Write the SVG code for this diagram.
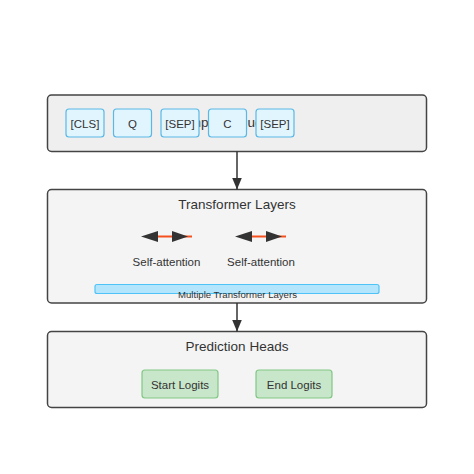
<svg xmlns="http://www.w3.org/2000/svg" width="474" height="474" viewBox="0 0 474 474">
<defs>
<style>
.panel{stroke:#444;stroke-width:1.5}
.tok{fill:#e1f5fe;stroke:#5ab8e6;stroke-width:1.2}
.head{fill:#c8e6c9;stroke:#81c784;stroke-width:1.2}
.title{font-family:"Liberation Sans",Arial,sans-serif;font-size:13.5px;fill:#333;text-anchor:middle}
.lbl{font-family:"Liberation Sans",Arial,sans-serif;font-size:11.5px;fill:#333;text-anchor:middle}
.small{font-family:"Liberation Sans",Arial,sans-serif;font-size:9.6px;fill:#333;text-anchor:middle}
.conn{stroke:#333;stroke-width:1.5;fill:none}
.att{stroke:#f4511e;stroke-width:2}
.ah{fill:#333}
</style>
<marker id="arr" viewBox="0 0 12 10" refX="12" refY="5" markerWidth="12" markerHeight="10" markerUnits="userSpaceOnUse" orient="auto">
<path d="M0,0 L12,5 L0,10 Z" fill="#333"/>
</marker>
</defs>
<rect width="474" height="474" fill="#ffffff"/>

<g id="input">
<rect class="panel" x="47.5" y="95" width="379" height="56.5" rx="4" fill="#efefef"/>
<text class="title" x="237" y="127">Input Sequence</text>
<g id="tok-cls"><rect class="tok" x="66" y="109" width="38" height="28" rx="3"/><text class="lbl" x="85" y="128">[CLS]</text></g>
<g id="tok-q"><rect class="tok" x="113.5" y="109" width="38" height="28" rx="3"/><text class="lbl" x="132.5" y="128">Q</text></g>
<g id="tok-sep1"><rect class="tok" x="161" y="109" width="38" height="28" rx="3"/><text class="lbl" x="180" y="128">[SEP]</text></g>
<g id="tok-c"><rect class="tok" x="208.5" y="109" width="38" height="28" rx="3"/><text class="lbl" x="227.5" y="128">C</text></g>
<g id="tok-sep2"><rect class="tok" x="256" y="109" width="38" height="28" rx="3"/><text class="lbl" x="275" y="128">[SEP]</text></g>
</g>

<g id="transformer">
<rect class="panel" x="47.5" y="189.5" width="379" height="113.5" rx="4" fill="#f4f4f4"/>
<text class="title" x="237" y="208.5">Transformer Layers</text>
<g id="att1">
<line class="att" x1="157" y1="236.5" x2="192" y2="236.5"/>
<path class="ah" d="M141,236.5 L158,231 L158,242 Z"/>
<path class="ah" d="M172,231 L188,236.5 L172,242 Z"/>
<text class="lbl" x="166.5" y="265.5">Self-attention</text>
</g>
<g id="att2">
<line class="att" x1="251" y1="236.5" x2="286" y2="236.5"/>
<path class="ah" d="M235,236.5 L252,231 L252,242 Z"/>
<path class="ah" d="M266,231 L282,236.5 L266,242 Z"/>
<text class="lbl" x="261" y="265.5">Self-attention</text>
</g>
<g id="layers-bar">
<rect x="95" y="284.5" width="284" height="9" rx="2" fill="#b3e5fc" stroke="#4fc3f7" stroke-width="1.2"/>
<text class="small" x="237.5" y="298">Multiple Transformer Layers</text>
</g>
</g>

<g id="prediction">
<rect class="panel" x="47.5" y="331.5" width="379" height="76" rx="4" fill="#f4f4f4"/>
<text class="title" x="237" y="350.5">Prediction Heads</text>
<g id="start"><rect class="head" x="142" y="370" width="76" height="28" rx="3"/><text class="lbl" x="180" y="389">Start Logits</text></g>
<g id="end"><rect class="head" x="256" y="370" width="76" height="28" rx="3"/><text class="lbl" x="294" y="389">End Logits</text></g>
</g>

<g id="connectors">
<line class="conn" x1="237" y1="151.5" x2="237" y2="189.5" marker-end="url(#arr)"/>
<line class="conn" x1="237" y1="303" x2="237" y2="331.5" marker-end="url(#arr)"/>
</g>
</svg>
